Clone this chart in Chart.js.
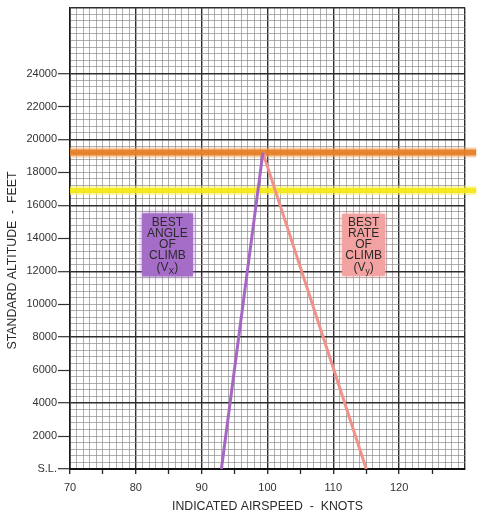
<!DOCTYPE html>
<html>
<head>
<meta charset="utf-8">
<script src="https://cdn.jsdelivr.net/npm/chart.js@4.4.1/dist/chart.umd.min.js"></script>
<style>
  html, body { margin: 0; padding: 0; background: #fff; }
  #wrap { width: 478px; height: 529px; position: relative; }
</style>
</head>
<body>
<div id="wrap"><canvas id="climbChart"></canvas></div>
<script>
// axis ranges and labels
const xTickLabels = [70, 80, 90, 100, 110, 120];
const yTickValues = [0, 2000, 4000, 6000, 8000, 10000, 12000, 14000, 16000, 18000, 20000, 22000, 24000];
const yTickLabels = ['S.L.', '2000', '4000', '6000', '8000', '10000', '12000', '14000', '16000', '18000', '20000', '22000', '24000'];

// best angle of climb (Vx) and best rate of climb (Vy), knots vs altitude
const vxKnots = [93, 99.3];
const vxAltitude = [0, 19200];
const vyKnots = [99.3, 115];
const vyAltitude = [19200, 0];

// ceilings: absolute (orange) and service (yellow)
const ceilingNames = ['absolute', 'service'];
const ceilingAltitude = [19200, 16900];
const ceilingKnots = [70, 131.7];

var FONT = '"Liberation Sans", Arial, sans-serif';
var BOXFONT = '12px ' + FONT;
var SUBFONT = '8.5px ' + FONT;

function pts(xs, ys) {
  return xs.map(function (x, i) { return { x: x, y: ys[i] }; });
}
function band(alt) {
  return ceilingKnots.map(function (k) { return { x: k, y: alt }; });
}

// text boxes, placed in data coordinates
var boxPlugin = {
  id: 'climbBoxes',
  afterDatasetsDraw: function (chart, args, opts) {
    var ctx = chart.ctx;
    var xs = chart.scales.x, ys = chart.scales.y;
    opts.boxes.forEach(function (b) {
      var cx = xs.getPixelForValue(b.knots), cy = ys.getPixelForValue(b.alt);
      ctx.save();
      ctx.fillStyle = b.color;
      ctx.shadowColor = b.color;
      ctx.shadowBlur = 5;
      ctx.fillRect(cx - b.w / 2, cy - b.h / 2, b.w, b.h);
      ctx.shadowBlur = 0;
      ctx.fillStyle = '#2a2a2a';
      ctx.font = BOXFONT;
      ctx.textAlign = 'center';
      ctx.textBaseline = 'middle';
      var lh = 11;
      var y0 = cy - ((b.lines.length + 1) * lh) / 2 + lh / 2;
      b.lines.forEach(function (t, i) {
        ctx.fillText(t, cx, y0 + i * lh);
      });
      // last line: (V with subscript)
      var yl = y0 + b.lines.length * lh + 1;
      var w1 = ctx.measureText('(V').width;
      ctx.font = SUBFONT;
      var w2 = ctx.measureText(b.sub).width;
      ctx.font = BOXFONT;
      var w3 = ctx.measureText(')').width;
      var sx = cx - (w1 + w2 + w3) / 2;
      ctx.textAlign = 'left';
      ctx.fillText('(V', sx, yl);
      ctx.font = SUBFONT;
      ctx.fillText(b.sub, sx + w1, yl + 4);
      ctx.font = BOXFONT;
      ctx.fillText(')', sx + w1 + w2, yl);
      ctx.restore();
    });
  }
};

new Chart(document.getElementById('climbChart'), {
  type: 'scatter',
  data: {
    datasets: [
      { label: 'Vx', data: pts(vxKnots, vxAltitude), showLine: true, borderColor: '#a566c4', borderWidth: 3, pointRadius: 0, order: 1 },
      { label: 'Vy', data: pts(vyKnots, vyAltitude), showLine: true, borderColor: '#f0928a', borderWidth: 3, pointRadius: 0, order: 1 },
      { label: ceilingNames[0] + ' glow', data: band(ceilingAltitude[0]), showLine: true, borderColor: 'rgba(244,170,100,0.55)', borderWidth: 10, pointRadius: 0, clip: false, order: 3 },
      { label: ceilingNames[0], data: band(ceilingAltitude[0]), showLine: true, borderColor: 'rgba(230,125,35,0.9)', borderWidth: 6, pointRadius: 0, clip: false, order: 2 },
      { label: ceilingNames[1] + ' glow', data: band(ceilingAltitude[1]), showLine: true, borderColor: 'rgba(250,240,90,0.55)', borderWidth: 9, pointRadius: 0, clip: false, order: 3 },
      { label: ceilingNames[1], data: band(ceilingAltitude[1]), showLine: true, borderColor: 'rgba(245,232,20,0.9)', borderWidth: 5, pointRadius: 0, clip: false, order: 2 }
    ]
  },
  options: {
    responsive: true,
    maintainAspectRatio: false,
    animation: false,
    layout: { padding: { left: 0, top: 7, right: 13, bottom: 0 } },
    plugins: {
      legend: { display: false },
      tooltip: { enabled: false },
      climbBoxes: {
        boxes: [
          { knots: 84.8, alt: 13600, w: 51, h: 63, color: '#a66dc8', lines: ['BEST', 'ANGLE', 'OF', 'CLIMB'], sub: 'X' },
          { knots: 114.6, alt: 13600, w: 43, h: 62, color: '#f2a2a0', lines: ['BEST', 'RATE', 'OF', 'CLIMB'], sub: 'y' }
        ]
      }
    },
    scales: {
      x: {
        type: 'linear',
        min: 70,
        max: 130,
        afterFit: function (s) { s.height = 60; },
        border: { display: true, color: '#111', width: 2 },
        grid: {
          color: function (c) { return c.tick && c.tick.value % 10 === 0 ? '#2e2e2e' : '#8c8c8c'; },
          lineWidth: function (c) { return c.tick && c.tick.value % 10 === 0 ? 1.4 : 0.7; },
          tickColor: function (c) { return c.tick && c.tick.value % 5 === 0 && c.tick.value < 130 ? '#222' : 'rgba(0,0,0,0)'; },
          tickLength: 5,
          tickWidth: 1.3
        },
        ticks: {
          stepSize: 1,
          maxTicksLimit: 200,
          autoSkip: false,
          maxRotation: 0,
          padding: 7,
          color: '#333',
          font: { family: FONT, size: 11 },
          callback: function (v) { return xTickLabels.indexOf(v) >= 0 ? String(v) : ''; }
        },
        title: {
          display: true,
          text: 'INDICATED AIRSPEED  -  KNOTS',
          color: '#2a2a2a',
          font: { family: FONT, size: 12.3 },
          padding: { top: 0, bottom: 15 }
        }
      },
      y: {
        type: 'linear',
        min: 0,
        max: 28000,
        afterFit: function (s) { s.width = 70; },
        border: { display: true, color: '#1a1a1a', width: 1.6 },
        grid: {
          color: function (c) { return c.tick && c.tick.value % 4000 === 0 ? '#2e2e2e' : '#8c8c8c'; },
          lineWidth: function (c) { return c.tick && c.tick.value % 4000 === 0 ? 1.4 : 0.7; },
          tickColor: function (c) { return c.tick && yTickValues.indexOf(c.tick.value) >= 0 ? '#333' : 'rgba(0,0,0,0)'; },
          tickLength: 12,
          tickWidth: 1.2
        },
        ticks: {
          stepSize: 400,
          maxTicksLimit: 200,
          autoSkip: false,
          padding: 1,
          color: '#333',
          font: { family: FONT, size: 11 },
          callback: function (v) {
            var i = yTickValues.indexOf(v);
            return i >= 0 ? yTickLabels[i] : '';
          }
        },
        title: {
          display: true,
          // trailing spaces push the rotated title a little lower, as in the original
          text: 'STANDARD ALTITUDE  -  FEET' + '\u00a0'.repeat(13),
          color: '#2a2a2a',
          font: { family: FONT, size: 12.3 },
          padding: { top: 5, bottom: 0 }
        }
      }
    }
  },
  plugins: [boxPlugin]
});
</script>
</body>
</html>
